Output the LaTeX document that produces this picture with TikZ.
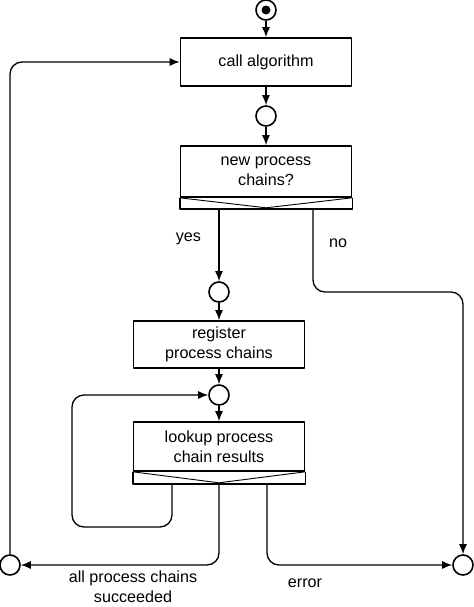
\documentclass[tikz,border=0pt]{standalone}
\usepackage{fontspec}
\setmainfont{Liberation Sans}
\usetikzlibrary{arrows.meta}
\begin{document}
\begin{tikzpicture}[>={Latex[length=10bp,width=8bp]},line join=bevel,
  font=\fontsize{16.2}{20}\selectfont,
  box/.style={draw,line width=1.6bp,minimum width=171bp,inner sep=0pt,align=center},
  state/.style={circle,draw,line width=1.6bp,minimum size=20bp,inner sep=0pt},
  initstate/.style={state,path picture={\fill (path picture bounding box.center) circle (4.5bp);}},
  flow/.style={black,->,line width=1.3bp,rounded corners=12bp},
  strip/.style={black,line width=0.9bp},
]
\useasboundingbox (0bp,0bp) rectangle (474bp,-607bp);
%%
\node (start) at (266bp,-10bp) [initstate] {};
  \node (call) at (266bp,-62bp) [box,minimum height=48bp] {call algorithm};
  \node (s_1) at (266bp,-116bp) [state] {};
  \node (newpc) at (266bp,-171.5bp) [box,minimum height=51bp] {new process\\chains?};
  \node (s_2) at (219bp,-292bp) [state] {};
  \node (register) at (219bp,-344.5bp) [box,minimum height=47bp] {register\\process chains};
  \node (s_3) at (219bp,-395bp) [state] {};
  \node (lookup) at (219bp,-446.5bp) [box,minimum height=49bp] {lookup process\\chain results};
  \node (s_ok) at (10bp,-565bp) [state] {};
  \node (s_err) at (463bp,-565bp) [state] {};
%% decision strips
\draw [line width=1.6bp] (newpc.south west) -- ++(0bp,-11bp) -| (newpc.south east);
  \draw [strip] (newpc.south west) -- ([yshift=-10bp]newpc.south) -- (newpc.south east);
  \draw [line width=1.6bp] (lookup.south west) -- ++(0bp,-12bp) -| (lookup.south east);
  \draw [strip] (lookup.south west) -- ([yshift=-11bp]lookup.south) -- (lookup.south east);
%% connector ends
\coordinate (yes_0) at (219bp,-208bp);
  \coordinate (no_0) at (313bp,-208bp);
  \coordinate (no_1) at (463bp,-292bp);
  \coordinate (loop_0) at (172bp,-483bp);
  \coordinate (loop_1) at (72bp,-527bp);
  \coordinate (ok_0) at (219bp,-483bp);
  \coordinate (err_0) at (267bp,-483bp);
%%
\draw [flow] (start) -- (call);
  \draw [flow] (call) -- (s_1);
  \draw [flow] (s_1) -- (newpc);
  \draw [flow] (yes_0) -- node [left=14bp,pos=0.42] {yes} (s_2);
  \draw [flow] (no_0) |- (no_1) -- (s_err);
  \draw [flow] (s_2) -- (register);
  \draw [flow] (register) -- (s_3);
  \draw [flow] (s_3) -- (lookup);
  \draw [flow] (loop_0) |- (loop_1) |- (s_3);
  \draw [flow] (ok_0) |- (s_ok);
  \draw [flow] (err_0) |- (s_err);
  \draw [flow] (s_ok) |- (call);
%% labels
\node (lbl_no) at (338bp,-243bp) {no};
  \node (lbl_ok) at (133bp,-587bp) [align=center] {all process chains\\succeeded};
  \node (lbl_err) at (305bp,-583bp) {error};
%
\end{tikzpicture}
\end{document}
